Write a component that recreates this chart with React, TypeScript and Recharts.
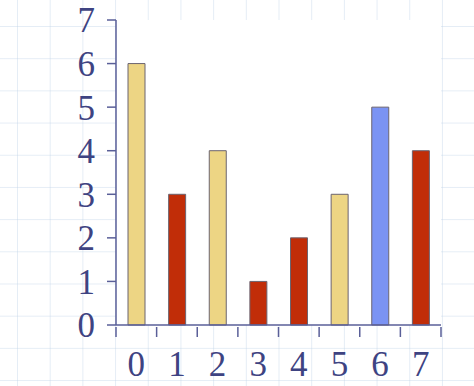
import React from 'react';
import { BarChart, Bar, XAxis, YAxis, Cell, CartesianGrid } from 'recharts';

const categories = [0, 1, 2, 3, 4, 5, 6, 7];
const values = [6, 3, 4, 1, 2, 3, 5, 4];
const barColors = ['#EDD584', '#C12D08', '#EDD584', '#C12D08', '#C12D08', '#EDD584', '#7B93F3', '#C12D08'];
const yTicks = [0, 1, 2, 3, 4, 5, 6, 7];

const NAVY = '#3E4382';
const AXIS = '#5A5F98';
const FONT = "'Liberation Serif', 'Times New Roman', serif";

const data = categories.map((c, i) => ({ x: c, value: values[i] }));

// labels sit on whole numbers, tick marks on the half steps between bars
const xTicks = [-0.5, ...categories.flatMap((c) => [c, c + 0.5])];

const XTick = (props: any) => {
    const { x, y, payload } = props;
    const v = payload.value;
    if (!Number.isInteger(v)) {
        return <line x1={x} x2={x} y1={y} y2={y + 10} stroke={AXIS} strokeWidth={1.5} />;
    }
    return (
        <text x={x} y={y + 49} textAnchor="middle" fill={NAVY} fontSize={35} style={{ fontFamily: FONT }}>
            {v}
        </text>
    );
};

export default function App() {
    return (
        <div
            style={{
                position: 'absolute',
                left: 0,
                top: 0,
                width: 474,
                height: 386,
                backgroundColor: '#fff',
                backgroundImage:
                    'linear-gradient(to right, rgba(190,210,232,0.4) 1px, transparent 1px), linear-gradient(to bottom, rgba(190,210,232,0.4) 1px, transparent 1px)',
                backgroundSize: '32.7px 32.2px',
                backgroundPosition: '17px 26px',
            }}
        >
            <BarChart width={474} height={386} data={data} margin={{ top: 20, right: 33, bottom: 0, left: 0 }}>
                <CartesianGrid horizontal={false} vertical={false} fill="#ffffff" />
                <XAxis
                    dataKey="x"
                    type="number"
                    domain={[-0.5, 7.5]}
                    ticks={xTicks}
                    interval={0}
                    height={61}
                    tickSize={0}
                    tickLine={false}
                    tick={<XTick />}
                    axisLine={{ stroke: AXIS, strokeWidth: 1.5 }}
                />
                <XAxis
                    xAxisId="top"
                    orientation="top"
                    height={0}
                    tick={false}
                    tickLine={false}
                    axisLine={{ stroke: AXIS, strokeWidth: 1.5 }}
                />
                <YAxis
                    domain={[0, 7]}
                    ticks={yTicks}
                    interval={0}
                    width={116}
                    tickSize={9}
                    tickMargin={12}
                    tick={{ fill: NAVY, fontSize: 35, style: { fontFamily: FONT } }}
                    tickLine={{ stroke: AXIS, strokeWidth: 1.5 }}
                    axisLine={{ stroke: AXIS, strokeWidth: 1.5 }}
                />
                <YAxis
                    yAxisId="right"
                    orientation="right"
                    width={0}
                    tick={false}
                    tickLine={false}
                    axisLine={{ stroke: AXIS, strokeWidth: 1.5 }}
                />
                <Bar dataKey="value" barSize={17} stroke="#6B6470" strokeWidth={1} isAnimationActive={false}>
                    {data.map((d, i) => (
                        <Cell key={`bar-${i}`} fill={barColors[i]} />
                    ))}
                </Bar>
            </BarChart>
        </div>
    );
}
